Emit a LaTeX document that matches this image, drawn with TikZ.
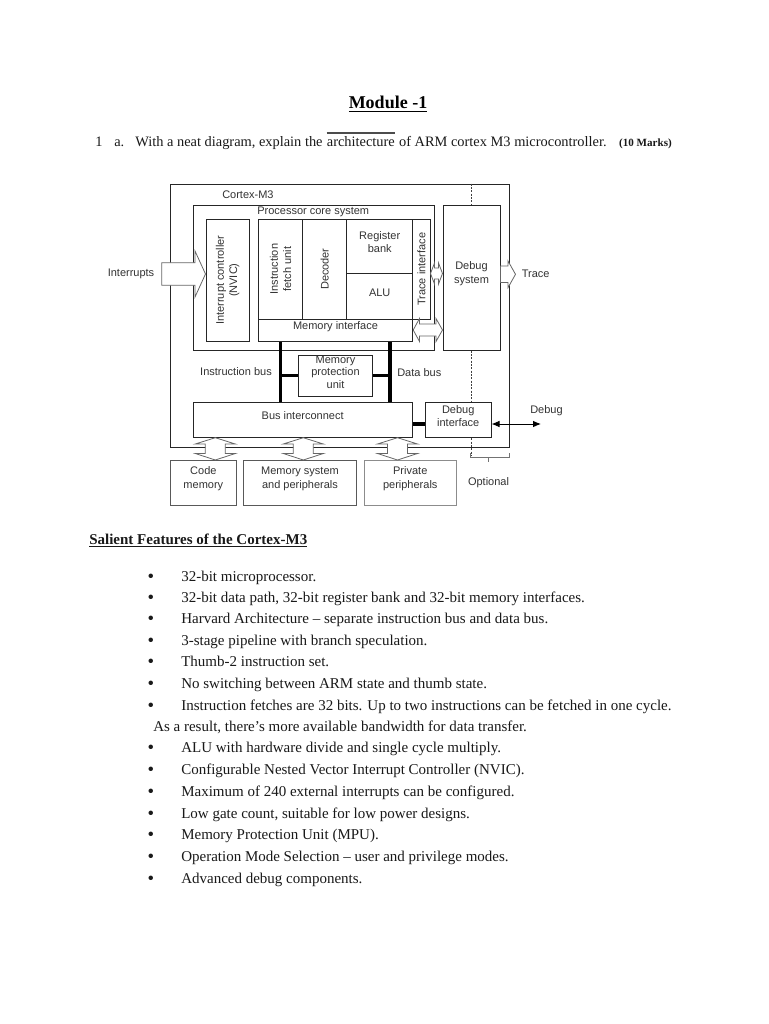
\documentclass[tikz,border=0pt]{standalone}
\usepackage{fontspec}
\setmainfont{Liberation Serif}
\newfontfamily\arialf{Liberation Sans}
\usetikzlibrary{arrows.meta,fit}
\begin{document}
\begin{tikzpicture}[x=0.75pt,y=-0.75pt,
  dtext/.style={font=\arialf\fontsize{8.25}{10}\selectfont, text=black!80, inner sep=0pt, align=center},
  box/.style={draw=black!85, line width=0.75pt, fill=white, inner sep=0pt, dtext},
  graybox/.style={draw=black!65, line width=0.75pt, fill=white, inner sep=0pt, dtext},
  lightbox/.style={draw=black!45, line width=0.75pt, fill=white, inner sep=0pt, dtext},
  blockarrow/.style={draw=black!60, line width=0.6pt, fill=white},
  bus/.style={line width=2.4pt, black},
  dashline/.style={draw=black!75, line width=0.5pt, dash pattern=on 1.5pt off 1pt},
  body/.style={font=\fontsize{11.25}{13}\selectfont, text=black!90, inner sep=0pt, anchor=mid west},
  bul/.style={font=\fontsize{14}{15}\selectfont, text=black!90, inner sep=0pt},
  qline/.style={font=\fontsize{10.8}{12}\selectfont, text=black!90, inner sep=0pt, anchor=base west},
]
\useasboundingbox[fill=white] (0,0) rectangle (768,1024);

% ---------- header ----------
\node[font=\bfseries\fontsize{13.5}{15}\selectfont, inner sep=0pt] (title) at (388,104) {\underline{Module -1}};
\node[qline] (qnum) at (95,146) {1};
\node[qline] (qa) at (114,146) {a.};
\node[qline] (q1) at (135,146) {With a neat diagram, explain the};
\node[qline] (qarch) at ([xshift=2.8pt]q1.base east) {architecture};
\node[qline] (q2) at ([xshift=2.8pt]qarch.base east) {of ARM cortex M3 microcontroller.};
\node[qline, font=\bfseries\fontsize{8.3}{9}\selectfont] (marks) at ([xshift=9pt]q2.base east) {(10 Marks)};
\draw[line width=1.3pt, black!70] ([yshift=2pt]qarch.north west) -- ([yshift=2pt]qarch.north east);

% ---------- diagram ----------
\node[box, fit={(170,184) (509,447)}] (cortex) {};
\node[dtext, anchor=west] (lcortex) at (222,194.5) {Cortex-M3};
\node[box, fit={(193,205.5) (434,350.5)}] (proc) {};
\node[dtext, anchor=west] (lproc) at (257,212) {Processor core system};
\node[box, fit={(443,205) (500,350)}] (dbgsys) {Debug\\system};

\node[box, fit={(206,219.3) (249.3,341)}] (nvic) {};
\node[dtext, rotate=90] (lnvic) at (nvic.center) {Interrupt controller\\(NVIC)};
\node[box, fit={(258.3,219.3) (302.7,319)}] (ifu) {};
\node[dtext, rotate=90] (lifu) at (ifu.center) {Instruction\\fetch unit};
\node[box, fit={(302.7,219.3) (346.7,319)}] (dec) {};
\node[dtext, rotate=90] (ldec) at (dec.center) {Decoder};
\node[box, fit={(346.7,219.3) (412.7,273.3)}] (regb) {Register\\bank};
\node[box, fit={(346.7,273.3) (412.7,319)}] (alu) {ALU};
\node[box, fit={(412.7,219.3) (430,319)}] (trace) {};
\node[dtext, rotate=90] (ltrace) at (trace.center) {Trace interface};
\node[box, fit={(258.3,319) (412.7,341.3)}] (memif) {Memory interface};

% interrupts block arrow
\draw[blockarrow] (161.7,262.7) -- (195,262.7) -- (195,251) -- (nvic.west |- 0,274) -- (195,297) -- (195,285.3) -- (161.7,285.3) -- cycle;
\node[dtext] (lint) at (131,273.5) {Interrupts};

% trace output block arrow
\draw[blockarrow] (dbgsys.east |- 0,266) -- (508,266) -- (508,261) -- (515.5,274.3) -- (508,287.7) -- (508,282.5) -- (dbgsys.east |- 0,282.5) -- cycle;
\node[dtext, anchor=west] (ltr) at (521.5,274) {Trace};

% trace iface <-> debug system
\draw[blockarrow] (trace.east |- 0,273.5) -- (434.5,263) -- (434.5,268) -- (438.5,268) -- (438.5,263) -- (dbgsys.west |- 0,273.5) -- (438.5,284) -- (438.5,279) -- (434.5,279) -- (434.5,284) -- cycle;
% memory iface <-> debug system
\draw[blockarrow] (memif.east |- 0,330) -- (419.5,318.5) -- (419.5,324) -- (436,324) -- (436,318.5) -- (dbgsys.west |- 0,330) -- (436,341.5) -- (436,336) -- (419.5,336) -- (419.5,341.5) -- cycle;

% buses
\node[box, fit={(298.3,355) (372.7,396.7)}, font=\arialf\fontsize{8.25}{9.4}\selectfont] (mpu) {Memory\\protection\\unit};
\node[box, fit={(193,402) (412.3,437.7)}] (busic) {Bus interconnect};
\node[box, fit={(425.5,402.5) (491,437.7)}] (dbgif) {Debug\\interface};
\coordinate (ib) at (280.7,0);
\coordinate (db) at (390,0);
\coordinate (dl) at (0,424);
\draw[bus] (ib |- memif.south) -- (ib |- busic.north);
\draw[bus] (db |- memif.south) -- (db |- busic.north);
\draw[bus] (ib |- mpu.west) -- (mpu.west);
\draw[bus] (mpu.east) -- (db |- mpu.east);
\draw[bus] (busic.east |- dl) -- (dbgif.west |- dl);
\node[dtext] (libus) at (236,372) {Instruction bus};
\node[dtext, anchor=west] (ldbus) at (397,372.5) {Data bus};

% debug arrow
\coordinate (dbgend) at (541,424);
\draw[line width=0.75pt, {Latex[length=6pt,width=5pt]}-{Latex[length=6pt,width=5pt]}] (dbgif.east |- dl) -- (dbgend);
\node[dtext, anchor=west] (ldebug) at (530,411) {Debug};

% dashed optional boundary
\coordinate (brace) at (472,455);
\draw[dashline] (dbgsys.north |- cortex.north) -- (dbgsys.north);
\draw[dashline] (dbgsys.south) -- (dbgsys.south |- dbgif.north);
\draw[dashline] (dbgsys.south |- dbgif.south) -- (dbgsys.south |- brace);
\draw[draw=black!55, line width=0.6pt] (470,453) -- (470,457.5) -- (509,457.5) -- (509,453);
\draw[draw=black!55, line width=0.6pt] (488.5,457.5) -- (488.5,461.5);
\node[dtext] (lopt) at (488.5,482.5) {Optional};

% memories
\node[graybox, fit={(170,460) (236.7,505.5)}] (codem) {Code\\memory};
\node[graybox, fit={(243.3,460) (356.7,505.5)}] (memsys) {Memory system\\and peripherals};
\node[lightbox, fit={(364,460) (456.5,505.5)}] (privp) {Private\\peripherals};

% vertical double block arrows
\foreach \cx in {215.3,303.3,397.5} {
  \draw[blockarrow] (\cx,437.7) -- (\cx+20,444) -- (\cx+10,444) -- (\cx+10,453.5) -- (\cx+20,453.5) -- (\cx,460) -- (\cx-20,453.5) -- (\cx-10,453.5) -- (\cx-10,444) -- (\cx-20,444) -- cycle;
}

% ---------- features ----------
\node[body, font=\bfseries\fontsize{11.25}{13}\selectfont] (feat) at (89,541) {\underline{Salient Features of the Cortex-M3}};
\foreach \y/\t [count=\i] in {
 578/{32-bit microprocessor.},
 599/{32-bit data path, 32-bit register bank and 32-bit memory interfaces.},
 620/{Harvard Architecture – separate instruction bus and data bus.},
 642/{3-stage pipeline with branch speculation.},
 663/{Thumb-2 instruction set.},
 685/{No switching between ARM state and thumb state.},
 707/{Instruction fetches are 32 bits. Up to two instructions can be fetched in one cycle.},
 749/{ALU with hardware divide and single cycle multiply.},
 771/{Configurable Nested Vector Interrupt Controller (NVIC).},
 793/{Maximum of 240 external interrupts can be configured.},
 815/{Low gate count, suitable for low power designs.},
 836/{Memory Protection Unit (MPU).},
 858/{Operation Mode Selection – user and privilege modes.},
 880/{Advanced debug components.}} {
  \node[bul] (b\i) at (151,\y) {•};
  \node[body] (f\i) at (181,\y) {\t};
}
\node[body] (fcont) at (153,728) {As a result, there’s more available bandwidth for data transfer.};
\end{tikzpicture}
\end{document}
